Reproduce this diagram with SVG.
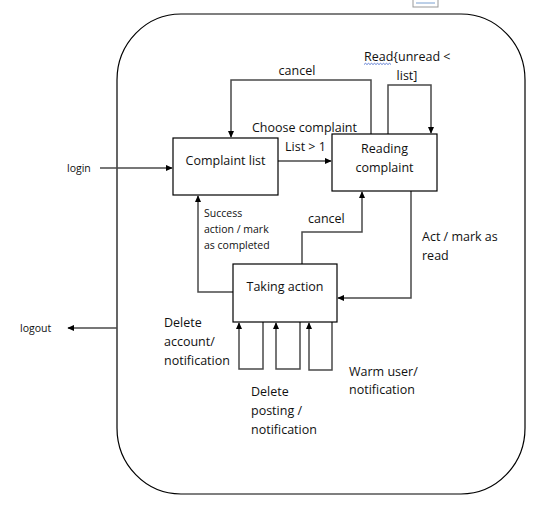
<svg xmlns="http://www.w3.org/2000/svg" width="549" height="507" viewBox="0 0 549 507">
<style>
text{font-family:"Open Sans","Liberation Sans",sans-serif;fill:#111}
.t{font-size:12.5px}
.s{font-size:10.5px}
.box{fill:#fff;stroke:#000;stroke-width:1.2}
.c{fill:none;stroke:#4a4a4a;stroke-width:1.5}
</style>
<defs>
<marker id="a" viewBox="0 0 10 10" refX="9" refY="5" markerWidth="7" markerHeight="7" orient="auto" markerUnits="userSpaceOnUse"><path d="M0,0.5 L10,5 L0,9.5 z" fill="#000"/></marker>
</defs>
<rect width="549" height="507" fill="#fff"/>
<g id="artifact">
<rect x="413" y="-2" width="25" height="9" fill="#fff" stroke="#999" stroke-width="1"/>
<line x1="416" y1="3" x2="435" y2="3" stroke="#7aa0d0" stroke-width="1"/>
</g>
<g id="boundary">
<rect x="117" y="14" width="408" height="480" rx="64" ry="66" fill="none" stroke="#000" stroke-width="1.2"/>
</g>
<g id="connectors">
<path class="c" d="M100,168 H172" marker-end="url(#a)"/>
<path class="c" d="M117,328 H68" marker-end="url(#a)"/>
<path class="c" d="M278,161 H331" marker-end="url(#a)"/>
<path class="c" d="M371,134 V80 H231 V137" marker-end="url(#a)"/>
<path class="c" d="M388,134 V85 H431 V133" marker-end="url(#a)"/>
<path class="c" d="M233,292 H198 V196" marker-end="url(#a)"/>
<path class="c" d="M302,264 V232 H362 V192" marker-end="url(#a)"/>
<path class="c" d="M411,191 V298 H338" marker-end="url(#a)"/>
<path class="c" d="M263,322 V369 H239 V323" marker-end="url(#a)"/>
<path class="c" d="M300,322 V369 H276 V323" marker-end="url(#a)"/>
<path class="c" d="M332,322 V370 H309 V323" marker-end="url(#a)"/>
</g>
<g id="complaint-list">
<rect class="box" x="173" y="138" width="105" height="57"/>
<text class="t" x="225.5" y="165" text-anchor="middle">Complaint list</text>
</g>
<g id="reading-complaint">
<rect class="box" x="332" y="134" width="105" height="57"/>
<text class="t" x="384.5" y="153" text-anchor="middle">Reading</text>
<text class="t" x="384.5" y="172" text-anchor="middle">complaint</text>
</g>
<g id="taking-action">
<rect class="box" x="233" y="264" width="104" height="58"/>
<text class="t" x="285" y="291" text-anchor="middle">Taking action</text>
</g>
<g id="labels">
<text class="s" x="67" y="172">login</text>
<text class="s" x="20" y="332">logout</text>
<text class="t" x="297" y="75" text-anchor="middle">cancel</text>
<text class="t" x="364" y="61">Read{unread &lt;</text>
<path d="M364,64.5 l1.5,-1.2 l1.5,1.2 l1.5,-1.2 l1.5,1.2 l1.5,-1.2 l1.5,1.2 l1.5,-1.2 l1.5,1.2 l1.5,-1.2 l1.5,1.2 l1.5,-1.2 l1.5,1.2 l1.5,-1.2 l1.5,1.2 l1.5,-1.2 l1.5,1.2 l1.5,-1.2 l1.5,1.2" fill="none" stroke="#3a5fc8" stroke-width="0.8"/>
<text class="t" x="407" y="80" text-anchor="middle">list]</text>
<text class="t" x="252" y="132">Choose complaint</text>
<text class="t" x="285" y="151">List &gt; 1</text>
<text class="s" x="204" y="217">Success</text>
<text class="s" x="204" y="233">action / mark</text>
<text class="s" x="204" y="249">as completed</text>
<text class="t" x="308" y="223">cancel</text>
<text class="t" x="422" y="241">Act / mark as</text>
<text class="t" x="422" y="260">read</text>
<text class="t" x="164" y="327">Delete</text>
<text class="t" x="164" y="346">account/</text>
<text class="t" x="164" y="365">notification</text>
<text class="t" x="251" y="396">Delete</text>
<text class="t" x="251" y="415">posting /</text>
<text class="t" x="251" y="434">notification</text>
<text class="t" x="349" y="376">Warm user/</text>
<text class="t" x="349" y="394">notification</text>
</g>
</svg>
